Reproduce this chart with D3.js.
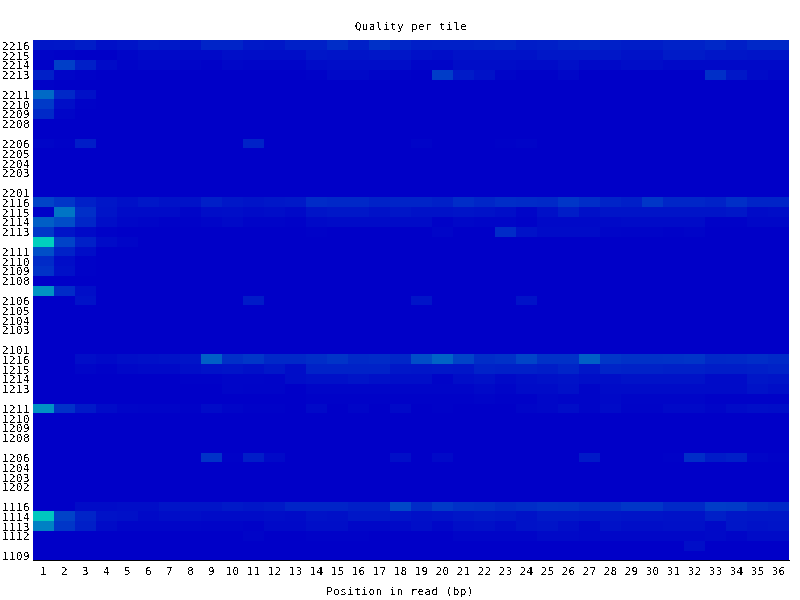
<!DOCTYPE html>
<html>
<head>
<meta charset="utf-8">
<script src="https://cdn.jsdelivr.net/npm/d3@7/dist/d3.min.js"></script>
<style>
html,body{margin:0;padding:0;background:#fff;}
svg{display:block;}
text{font-family:"DejaVu Sans Mono",monospace;font-size:11px;letter-spacing:.4px;fill:#000;}
</style>
</head>
<body>
<script>
const positions = [1,2,3,4,5,6,7,8,9,10,11,12,13,14,15,16,17,18,19,20,21,22,23,24,25,26,27,28,29,30,31,32,33,34,35,36];
const tiles = ["2216","2215","2214","2213","2212","2211","2210","2209","2208","2207","2206","2205","2204","2203","2202","2201",
  "2116","2115","2114","2113","2112","2111","2110","2109","2108","2107","2106","2105","2104","2103","2102","2101",
  "1216","1215","1214","1213","1212","1211","1210","1209","1208","1207","1206","1204","1203","1202","1201",
  "1116","1114","1113","1112","1110","1109"];
const labelledTiles = ["2216","2215","2214","2213","2211","2210","2209","2208","2206","2205","2204","2203","2201",
  "2116","2115","2114","2113","2111","2110","2109","2108","2106","2105","2104","2103","2101",
  "1216","1215","1214","1213","1211","1210","1209","1208","1206","1204","1203","1202",
  "1116","1114","1113","1112","1109"];
const flat = [0,0,0,0,0,0,0,0,0,0,0,0,0,0,0,0,0,0,0,0,0,0,0,0,0,0,0,0,0,0,0,0,0,0,0,0];
const values = {
  "2216":[1.2,1.3,1.6,.9,1.1,1.5,1.4,1.1,2,2,1.4,1.3,1.8,1.8,2.5,1.8,2.7,2.1,1.7,1.8,1.8,1.9,2,1.6,1.7,2,2.1,1.8,1.6,1.6,1.9,1.9,2.2,1.7,2.2,2.2],
  "2215":[.2,.1,0,0,.3,.5,.5,.5,.5,.8,.7,.7,.7,1.2,1.1,1.1,1.2,1.2,.9,.7,1,1,1,1,1.3,1.3,1.3,1.3,1,1,1.5,1.5,1.2,1.2,1.1,1.1],
  "2214":[.1,3.5,1.7,.6,.2,.4,.4,.3,.1,.4,.3,.3,.3,.6,.7,.7,.7,.7,.3,.3,.7,.7,.7,.6,.6,.9,.5,.5,.7,.7,.5,.5,.5,.5,.5,.5],
  "2213":[1.8,.3,.1,0,0,0,0,0,0,0,0,0,0,.1,.5,.5,.3,.1,0,3.4,1.5,1,.3,.1,.1,.4,0,0,0,0,0,0,2.6,1.3,.6,.4],
  "2212":[.1,0,0,0,0,0,0,0,0,0,0,0,0,0,0,0,0,0,0,0,0,0,0,0,0,0,0,0,0,0,0,0,0,0,0,0],
  "2211":[5.5,2.2,.9,0,0,0,0,0,0,0,0,0,0,0,0,0,0,0,0,0,0,0,0,0,0,0,0,0,0,0,0,0,0,0,0,0],
  "2210":[3.2,.8,.1,0,0,0,0,0,0,0,0,0,0,0,0,0,0,0,0,0,0,0,0,0,0,0,0,0,0,0,0,0,0,0,0,0],
  "2209":[2.3,.3,0,0,0,0,0,0,0,0,0,0,0,0,0,0,0,0,0,0,0,0,0,0,0,0,0,0,0,0,0,0,0,0,0,0],
  "2206":[.3,.1,1.6,0,0,0,0,0,0,0,1.9,0,0,0,0,0,0,0,.2,0,0,0,.1,.2,0,0,0,0,0,0,0,0,0,0,0,0],
  "2116":[3.8,3,1.8,1.2,.9,1.3,1,1,1.7,1.3,1.1,1.3,1.4,2.4,2.2,2.2,1.9,2,2,1.8,2.5,2.1,2.5,2.4,2.3,3,2.5,2,1.7,3,2.1,2.1,1.9,2.6,2,2],
  "2115":[.1,6,2.6,1.1,.6,.6,.6,.3,.7,.8,.6,.7,.5,1.1,1.3,1.3,1,1.2,1,1,1.1,1,.8,.3,.9,1.6,.9,1.1,1.1,1.1,1.1,1.1,1.1,1.3,.6,.7],
  "2114":[5,4.2,2.1,.8,.4,.3,.1,.1,.3,.5,.2,.2,.1,.5,.6,.6,.6,.6,.6,.1,.4,.3,.3,.1,.5,.5,.5,.5,.6,.6,.6,.6,.1,.1,.4,.4],
  "2113":[3.1,1.1,.5,.1,0,0,0,0,0,0,0,0,0,.1,0,0,0,0,0,.3,0,0,2.4,1,.6,.6,.6,.3,.2,.2,.1,.2,0,0,0,0],
  "2112":[10,3.7,1.8,.6,.3,0,0,0,0,0,0,0,0,0,0,0,0,0,0,0,0,0,0,0,0,0,0,0,0,0,0,0,0,0,0,0],
  "2111":[4.3,1.9,.7,0,0,0,0,0,0,0,0,0,0,0,0,0,0,0,0,0,0,0,0,0,0,0,0,0,0,0,0,0,0,0,0,0],
  "2110":[2.4,.7,.1,0,0,0,0,0,0,0,0,0,0,0,0,0,0,0,0,0,0,0,0,0,0,0,0,0,0,0,0,0,0,0,0,0],
  "2109":[2.8,.9,.1,0,0,0,0,0,0,0,0,0,0,0,0,0,0,0,0,0,0,0,0,0,0,0,0,0,0,0,0,0,0,0,0,0],
  "2107":[7.3,2.4,.8,0,0,0,0,0,0,0,0,0,0,0,0,0,0,0,0,0,0,0,0,0,0,0,0,0,0,0,0,0,0,0,0,0],
  "2106":[0,0,1,0,0,0,0,0,0,0,1.5,0,0,0,0,0,0,0,1.1,0,0,0,0,1,0,0,0,0,0,0,0,0,0,0,0,0],
  "1216":[0,0,.7,.5,.8,.9,1,1.1,5,2.6,3,2.2,2.2,2.5,2.9,2.3,2.4,2.1,4.2,5.2,3.7,2.5,2.7,3.8,2.7,2.7,5,3,2.7,2.7,2.8,2.9,2.2,2.3,2.5,2.3],
  "1215":[0,0,.3,.1,.4,.5,.5,.8,1,1.1,.9,1.3,.7,1.9,1.9,1.9,1.9,1.3,1.2,1.3,1.2,1.9,1.8,1.8,1.6,2,1.2,2,1.9,1.9,1.8,1.8,1.6,1.6,1.7,1.9],
  "1214":[0,0,0,0,0,0,0,.1,.1,.3,.3,.2,.7,.9,.9,1.1,.9,.8,.8,.2,.7,.9,.5,.7,.9,1,.8,.8,1,1,1,1,.6,.6,1.2,1.1],
  "1213":[0,0,0,0,0,0,0,0,0,.3,.2,.2,0,.3,.3,.3,.3,.3,.3,.3,.3,.5,.3,.6,.6,.9,.3,.6,.6,.6,.6,.6,.6,.6,1,.8],
  "1212":[0,0,0,0,0,0,0,0,0,0,0,0,0,.1,.1,.1,.1,.1,.1,.1,.1,.2,.1,.1,.4,.3,.3,.5,.3,.3,.3,.3,.1,.1,.1,.1],
  "1211":[7.2,2.7,1.4,.6,.3,.2,.2,.1,.6,.3,.1,.1,0,.5,0,.3,0,.5,0,.1,0,0,0,.3,.4,.7,.3,.6,.2,.2,.5,.5,.3,.6,.8,.7],
  "1206":[0,0,0,0,0,0,0,0,2.8,.1,1.6,.5,0,0,0,0,0,.8,0,.5,0,0,0,0,0,0,1.4,0,0,0,.1,2.5,1.5,1.7,.3,.1],
  "1116":[0,0,.6,.6,.7,.7,1.1,1.1,1.1,1.4,1.2,1.4,2,2,2,1.7,1.7,4,2.4,3.2,2.7,2.6,2.3,2.5,2.8,2.7,2.4,2.5,3,3,2.3,2.3,3.4,3.3,2.5,2.2],
  "1114":[9.6,3.7,2,1,.9,.5,.7,.8,.6,.6,.6,.7,.6,1,.9,1.3,1.3,1.1,.9,1,1.2,1.4,1.3,1,1.4,1.4,1.3,1.2,1.1,1.1,1,1,1.7,1.3,1.2,1.2],
  "1113":[6.5,3,1.7,.6,.3,.3,.3,.3,.2,.2,.1,.5,.5,.8,.8,.4,.4,.5,.8,.4,.8,.9,.6,1,1.1,.8,.4,1,.8,.8,.9,.9,.5,1.2,1,1.1],
  "1112":[0,0,0,0,0,0,0,0,0,0,.2,0,0,.1,.1,.1,0,0,0,0,.2,.2,.2,.2,.5,.5,.4,.4,.4,.4,.4,.4,.5,.3,.6,.6],
  "1110":[0,0,0,0,0,0,0,0,0,0,0,0,0,0,0,0,0,0,0,0,0,0,0,0,0,0,0,0,0,0,0,.8,0,0,0,0]
};
const titleText = "Quality per tile";
const xLabel = "Position in read (bp)";

const width = 800, height = 600;
const left = 33, right = 789, top_ = 40, bottom = 560;

const svg = d3.select("body").append("svg").attr("width", width).attr("height", height);

// hard-edged text, like the reference's non-antialiased glyphs
const filter = svg.append("defs").append("filter").attr("id", "hard")
  .attr("color-interpolation-filters", "sRGB")
  .attr("x", "-5%").attr("y", "-20%").attr("width", "110%").attr("height", "140%");
filter.append("feComponentTransfer").append("feFuncA").attr("type", "discrete").attr("tableValues", "0 1");

const x = d3.scaleBand().domain(positions).range([left, right]);
const y = d3.scaleBand().domain(tiles).range([top_, bottom]);
const colour = d3.scaleLinear().domain([0, 4, 10]).range(["rgb(0,0,200)", "rgb(0,72,200)", "rgb(0,208,190)"]);

const cells = tiles.flatMap(t => (values[t] || flat).map((v, i) => ({tile: t, pos: positions[i], v})));
const rowEdge = t => Math.ceil(y(t));
const rowEnd = t => Math.ceil(y(t) + y.bandwidth());

svg.append("g").selectAll("rect").data(cells).join("rect")
  .attr("x", d => x(d.pos))
  .attr("y", d => rowEdge(d.tile))
  .attr("width", x.bandwidth())
  .attr("height", d => rowEnd(d.tile) - rowEdge(d.tile))
  .attr("fill", d => colour(d.v))
  .attr("shape-rendering", "crispEdges");

const xAxis = svg.append("g").attr("transform", `translate(0,${bottom})`)
  .call(d3.axisBottom(x).tickSize(0).tickPadding(5));
xAxis.select(".domain").attr("stroke", "#000").attr("shape-rendering", "crispEdges")
  .attr("d", `M${left},0.5H${right + 1}`);
xAxis.selectAll("text").attr("dy", 0).attr("y", 15);
xAxis.attr("font-family", null).attr("font-size", null);

const yAxis = svg.append("g").attr("transform", `translate(${left},0)`)
  .call(d3.axisLeft(y).tickValues(labelledTiles).tickSize(0).tickPadding(3));
yAxis.select(".domain").remove();
yAxis.selectAll("text").attr("dy", 0).attr("y", y.bandwidth() / 2);
yAxis.attr("font-family", null).attr("font-size", null);

svg.append("text").attr("x", 411).attr("y", 30).attr("text-anchor", "middle").text(titleText);
svg.append("text").attr("x", 400).attr("y", 595).attr("text-anchor", "middle").text(xLabel);

svg.selectAll("text").attr("filter", "url(#hard)");
</script>
</body>
</html>
